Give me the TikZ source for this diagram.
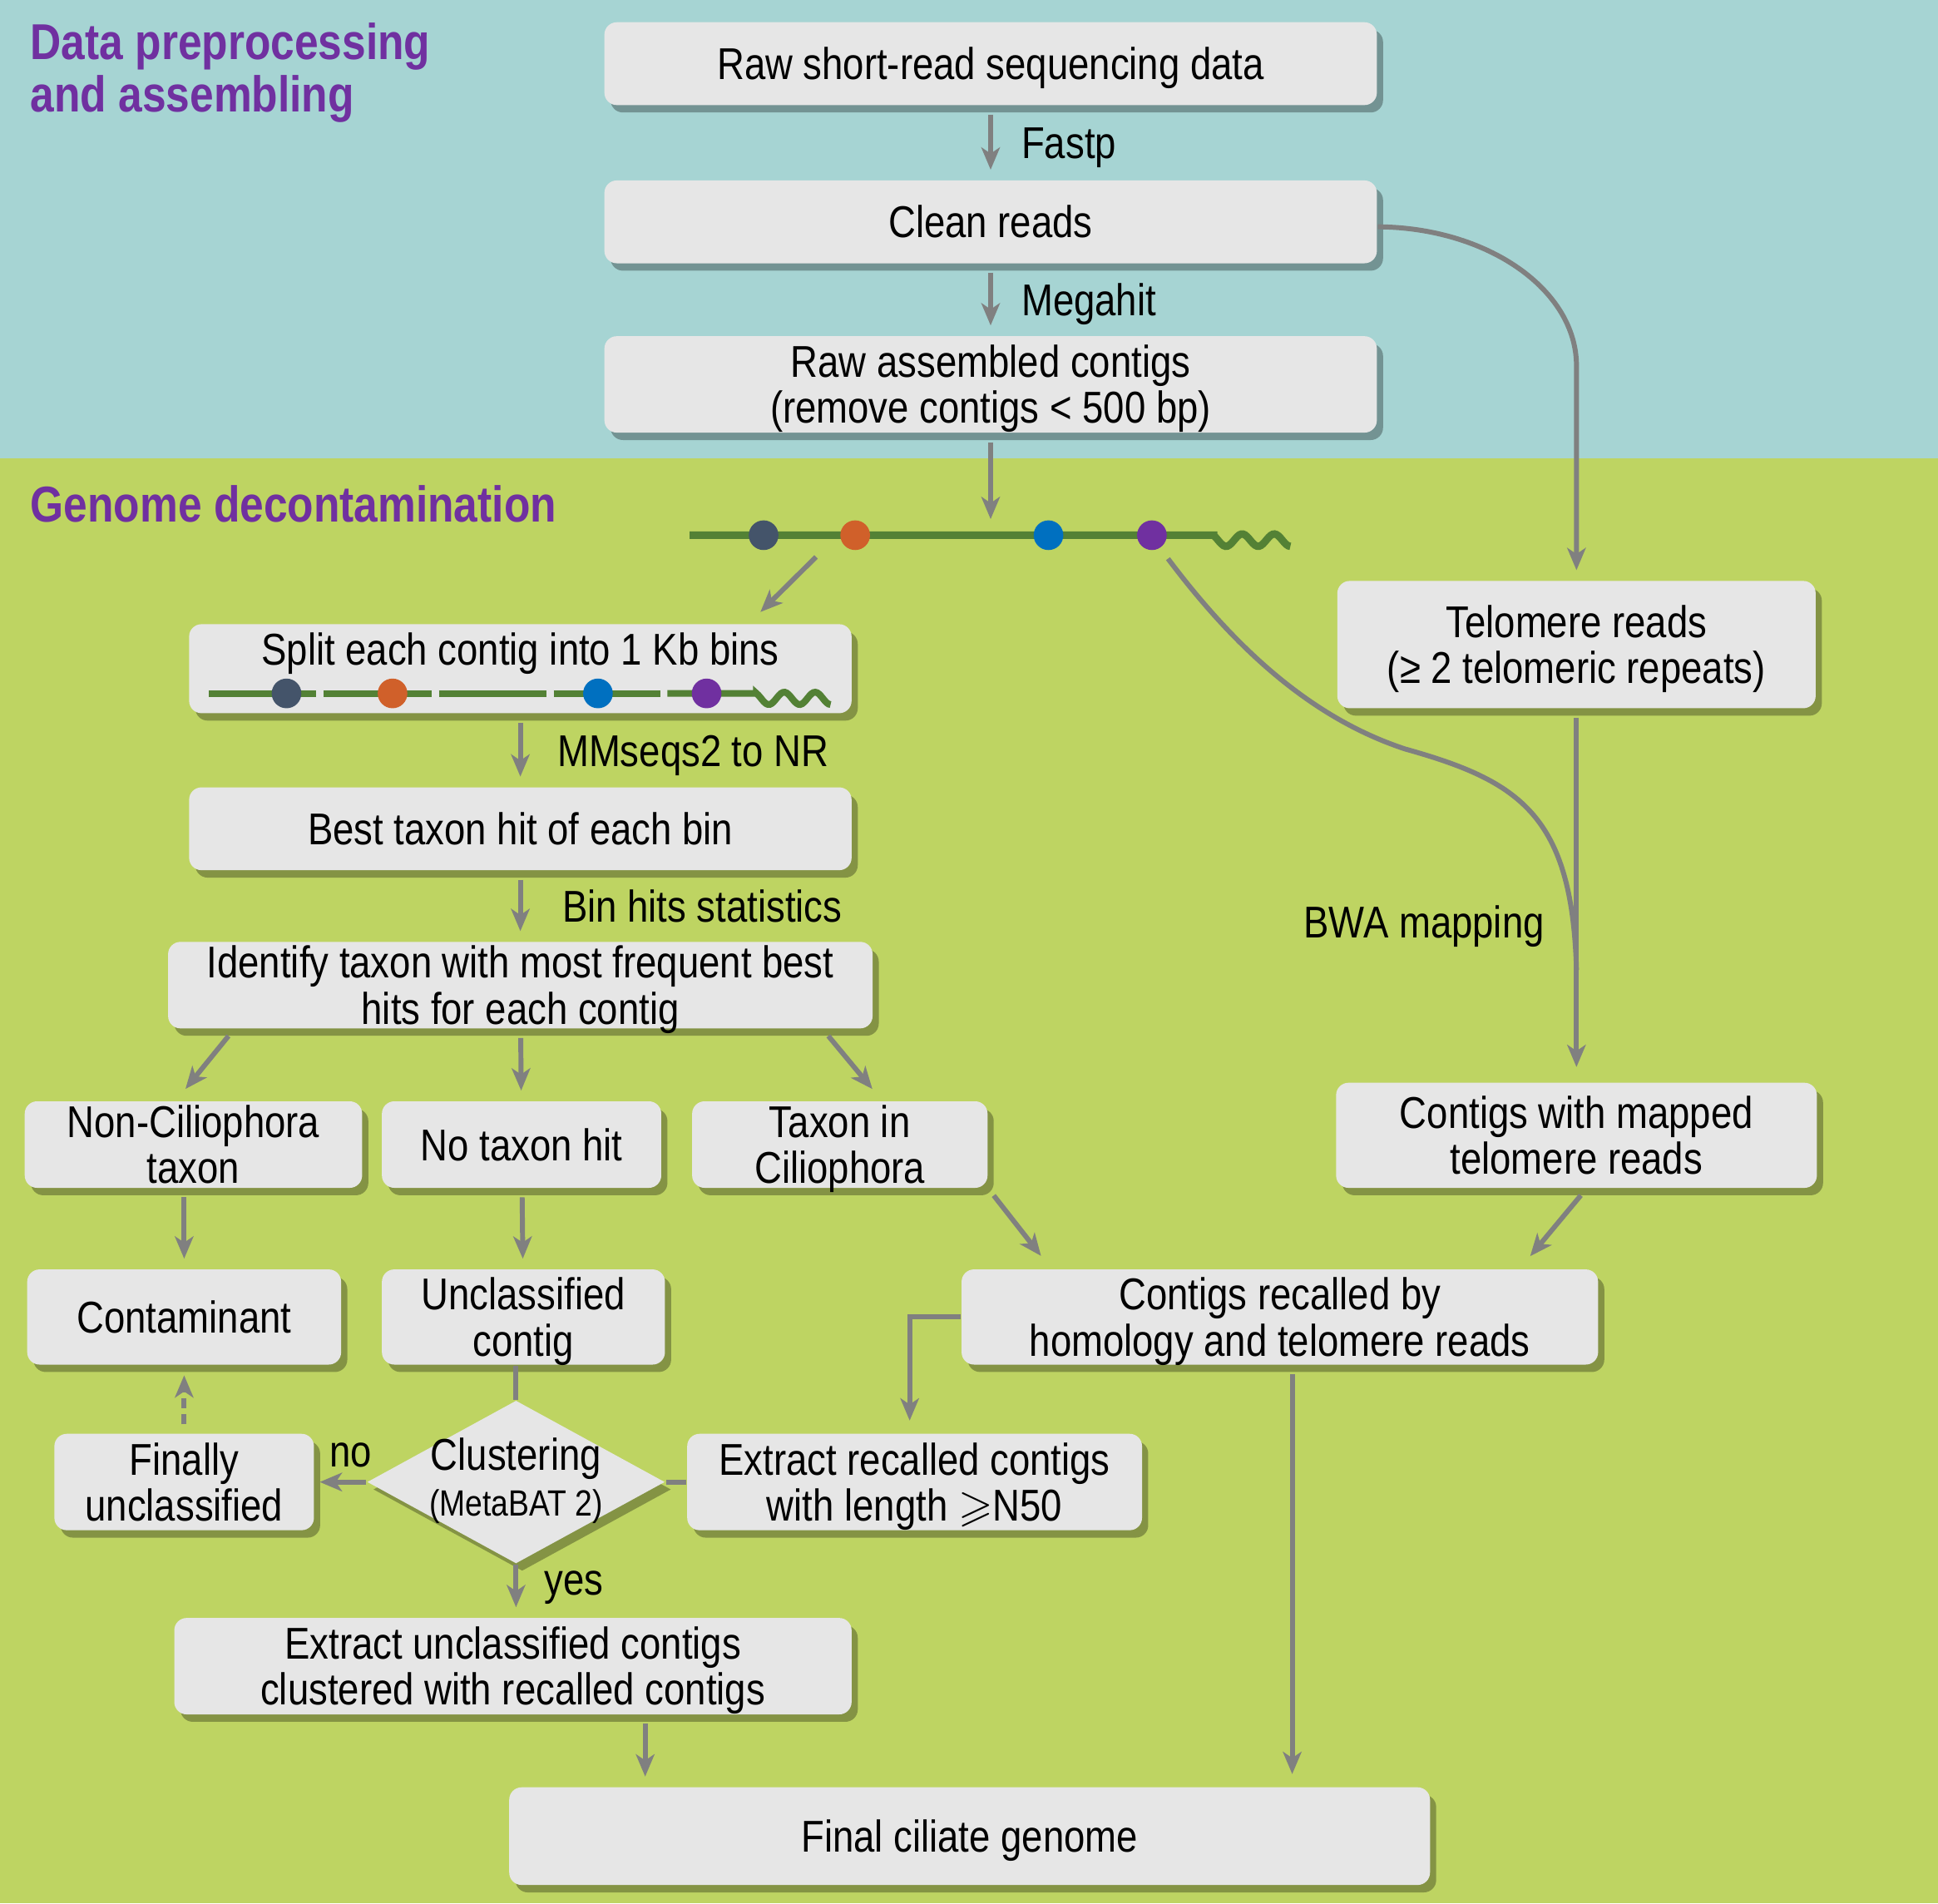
\documentclass[tikz,border=0pt]{standalone}
\usepackage{fontspec}
\usepackage{amssymb}
\setmainfont{Liberation Sans}[FakeStretch=0.85]
\usetikzlibrary{shapes,arrows,arrows.meta,shadows,calc}
\usetikzlibrary{positioning}

\definecolor{bgteal}{HTML}{A6D4D3}
\definecolor{bggreen}{HTML}{BED462}
\definecolor{boxgray}{HTML}{E6E6E6}
\definecolor{flowgray}{HTML}{808080}
\definecolor{titlepurple}{HTML}{7030A0}
\definecolor{contiggreen}{HTML}{538135}
\definecolor{dotslate}{HTML}{44546A}
\definecolor{dotorange}{HTML}{D0602A}
\definecolor{dotblue}{HTML}{0070C0}
\definecolor{dotpurple}{HTML}{7030A0}

% even line boxes, so that the capitals sit in the middle
\newcommand{\topstrut}{\rule{0pt}{0.936em}}
\newcommand{\topstrutii}{\rule{0pt}{\dimexpr0.936em+10.6pt\relax}}
\newcommand{\botstrut}{\rule[-0.22em]{0pt}{0.22em}}

\tikzset{
    evenlines/.style={execute at begin node=\topstrut, execute at end node=\botstrut},
    twolines/.style={execute at begin node=\topstrutii, inner ysep=-1.5mm},
    procbox/.style={rectangle, rounded corners=1mm, fill=boxgray, align=center, inner sep=0pt, evenlines,
        drop shadow={shadow xshift=0.5mm, shadow yshift=-0.6mm, fill=black, opacity=0.3}},
    decision/.style={diamond, fill=boxgray, inner sep=0pt,
        drop shadow={shadow xshift=0.5mm, shadow yshift=-0.6mm, fill=black, opacity=0.3}},
    flow/.style={draw=flowgray, line width=0.4mm, -{Stealth[length=1.8mm,width=1.5mm,inset=0.5mm]},
        shorten <=0.7mm, shorten >=0.8mm},
    link/.style={draw=flowgray, line width=0.4mm},
    steplabel/.style={inner sep=0pt, evenlines},
    contig/.style={draw=contiggreen, line width=0.6mm},
    bead/.style={circle, inner sep=0pt, minimum size=2.4mm},
    sectitle/.style={text=titlepurple, font=\fontsize{11.6}{11.95}\selectfont\bfseries, align=left, inner sep=0pt}
}

\begin{document}
\begin{tikzpicture}[x=0.1mm, y=-0.1mm, font=\fontsize{10.25}{10.6}\selectfont]
    \useasboundingbox (0,0) rectangle (1568,1540);
    \fill[bgteal] (0,0) rectangle (1568,371);
    \fill[bggreen] (0,371) rectangle (1568,1540);

    \node at (24,18) [sectitle, anchor=north west] (titleprep) {Data preprocessing\\and assembling};
    \node at (24,408) [sectitle, anchor=west] (titledecon) {Genome decontamination};

    % preprocessing and assembling
    \node at (801.5,51.5) [procbox, minimum width=62.5mm, minimum height=6.7mm] (raw) {Raw short-read sequencing data};
    \node at (801.5,179.5) [procbox, minimum width=62.5mm, minimum height=6.7mm] (clean) {Clean reads};
    \node at (801.5,311) [procbox, twolines, minimum width=62.5mm, minimum height=7.8mm] (asm) {Raw assembled contigs\\(remove contigs < 500 bp)};

    % assembled contig
    \draw[contig] (558,433) -- (982,433) -- plot[domain=982:1044, samples=40] (\x, {437+5*cos((\x-992)/26*360)});
    \foreach \x/\c [count=\i] in {617.8/dotslate, 691.9/dotorange, 848.3/dotblue, 932/dotpurple}
        \node at (\x,433) [bead, fill=\c] (ctg\i) {};
    \coordinate (binsrc) at (678,433);
    \coordinate (mapsrc) at (945,452);

    % decontamination
    \node at (421,541) [procbox, minimum width=53.6mm, text height=3.3mm, text depth=3.9mm] (split) {Split each contig into 1 Kb bins};
    \foreach \a/\b in {169/256, 262/349, 355/442, 448/534}
        \draw[contig, line width=0.55mm] (\a,561) -- (\b,561);
    \draw[contig, line width=0.55mm] (540,561) -- (612,561) -- plot[domain=612:672, samples=40] (\x, {565+5*cos((\x-622)/25*360)});
    \foreach \x/\c [count=\i] in {231.8/dotslate, 317.6/dotorange, 483.8/dotblue, 571.7/dotpurple}
        \node at (\x,561) [bead, fill=\c] (bin\i) {};

    \node at (421,670.5) [procbox, minimum width=53.6mm, minimum height=6.7mm] (best) {Best taxon hit of each bin};
    \node at (421,797) [procbox, twolines, minimum width=57mm, minimum height=7mm] (ident) {Identify taxon with most frequent best\\hits for each contig};
    \node at (156.5,926) [procbox, twolines, minimum width=27.3mm, minimum height=7mm] (noncil) {Non-Ciliophora\\taxon};
    \node at (422,926) [procbox, minimum width=22.6mm, minimum height=7mm] (nohit) {No taxon hit};
    \node at (679.5,926) [procbox, twolines, minimum width=23.9mm, minimum height=7mm] (taxcil) {Taxon in\\Ciliophora};
    \node at (149,1065.5) [procbox, minimum width=25.4mm, minimum height=7.7mm] (contam) {Contaminant};
    \node at (423.5,1065.5) [procbox, twolines, minimum width=22.9mm, minimum height=7.7mm] (unclass) {Unclassified\\contig};
    \node at (149,1199) [procbox, twolines, minimum width=21mm, minimum height=7.8mm] (finun) {Finally\\unclassified};
    \node at (417.5,1199) [decision, minimum width=24.1mm, minimum height=13.2mm] (clust) {};
    \node at (417.5,1198) [align=center, inner sep=0pt] (clusttext) {Clustering\\{\fontsize{8.4}{10}\selectfont(MetaBAT 2)}};
    \node at (740,1199) [procbox, twolines, minimum width=36.8mm, minimum height=7.8mm] (extract) {Extract recalled contigs\\with length $\geqslant$N50};
    \node at (415,1348) [procbox, twolines, minimum width=54.8mm, minimum height=7.8mm] (exunc) {Extract unclassified contigs\\clustered with recalled contigs};
    \node at (784.5,1485.5) [procbox, minimum width=74.5mm, minimum height=7.9mm] (final) {Final ciliate genome};
    \node at (1275.5,521.5) [procbox, twolines, minimum width=38.7mm, minimum height=10.3mm] (telo) {Telomere reads\\(≥ 2 telomeric repeats)};
    \node at (1275.5,918.5) [procbox, twolines, minimum width=38.9mm, minimum height=8.5mm] (telomap) {Contigs with mapped\\telomere reads};
    \node at (1035.5,1065.5) [procbox, twolines, minimum width=51.5mm, minimum height=7.7mm] (recalled) {Contigs recalled by\\homology and telomere reads};
    \coordinate (mapjoin) at ($(telo.south)!0.7!(telomap.north)$);

    % connectors
    \draw[flow] (raw) -- (clean) node [midway, right=2.3mm, steplabel] {Fastp};
    \draw[flow] (clean) -- (asm) node [midway, right=2.3mm, steplabel] {Megahit};
    \draw[flow, shorten >=1.3mm] (asm.south) -- (asm.south |- ctg1.center);
    \draw[flow, shorten <=2.5mm, shorten >=1.3mm] (binsrc) -- ([xshift=18.5mm]split.north);
    \draw[flow, shorten <=0pt] ([yshift=-0.4mm]clean.east) .. controls (1203,184) and (1275.5,234) .. (1275.5,296) -- (telo.north);
    \draw[flow, shorten >=1.2mm] (telo) -- (telomap) node [pos=0.57, left=2.4mm, steplabel] {BWA mapping};
    \draw[link] (mapsrc) .. controls (1005,532) and (1067,583) .. (1137,606) .. controls (1230,632) and (1272,660) .. (mapjoin);

    \draw[flow] (split) -- (best) node [midway, right=2.8mm, steplabel] {MMseqs2 to NR};
    \draw[flow] (best) -- (ident) node [midway, right=3.2mm, steplabel] {Bin hits statistics};
    \draw[flow, shorten >=1.2mm] ([xshift=5.4mm]ident.south west) -- ([xshift=-1.4mm]noncil.north);
    \draw[flow] (ident) -- (nohit);
    \draw[flow, shorten >=1.2mm] ([xshift=-4.1mm]ident.south east) -- ([xshift=3.4mm]taxcil.north);
    \draw[flow] (noncil.south -| contam) -- (contam.north);
    \draw[flow] (nohit) -- (unclass);
    \draw[flow, shorten >=1.3mm] (taxcil.south east) -- ([xshift=7.3mm]recalled.north west);
    \draw[flow, shorten >=1.3mm] ([xshift=0.8mm]telomap.south) -- ([xshift=-6.4mm]recalled.north east);
    \draw[flow, shorten <=0pt, shorten >=1mm] (recalled.west) -| ([xshift=-0.4mm]extract.north);
    \draw[flow, shorten >=1mm] ([xshift=1mm]recalled.south) -- ([xshift=1mm]recalled.south |- final.north);

    \draw[link] (unclass.south -| clust) -- (clust.north);
    \draw[link] (extract) -- (clust);
    \draw[flow, shorten <=0pt, shorten >=0.4mm] (clust) -- (finun) node [pos=0.3, above=0.2mm, steplabel] {no};
    \draw[flow, shorten <=0pt] (clust.south) -- (clust.south |- exunc.north) node [pos=0.27, right=2.1mm, steplabel] {yes};
    \draw[flow, dash pattern=on 0.8mm off 0.5mm] (finun) -- (contam);
    \draw[flow] ([xshift=10.7mm]exunc.south) -- ([xshift=10.7mm]exunc.south |- final.north);
\end{tikzpicture}
\end{document}
